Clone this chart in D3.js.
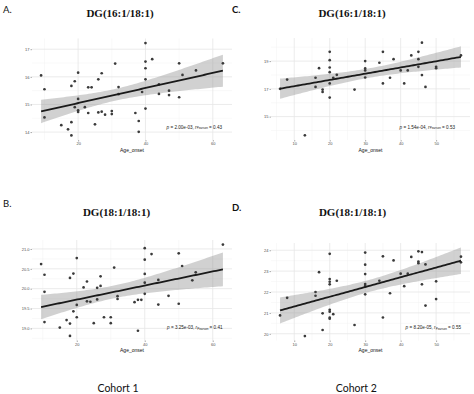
<!DOCTYPE html>
<html>
<head>
<meta charset="utf-8">
<script src="https://cdn.jsdelivr.net/npm/d3@7"></script>
<style>
  body { margin: 0; background: #fff; }
  svg { display: block; }
</style>
</head>
<body>
<script>
// cohort 1 (panels A, B)
var ageA = [9,10,10,15,17,18,18,18,19,19,20,20,20,20,22,23,24,23,25,26,26,27,27,28,30,30,31,32,32,37,38,38,39,40,40,40,40,40,42,44,44,47,47,50,50,51,55,63]
var dgA = [16.05,15.55,14.53,14.25,14.1,15.67,14.36,13.88,15.84,14.9,16.15,15.2,14.79,14.73,14.9,15.62,15.62,14.69,14.28,15.91,14.71,16.13,14.74,14.63,14.76,14.65,16.48,15.63,15.37,14.69,14.4,14.01,15.45,17.22,16.55,16.31,15.91,14.85,16.64,15.38,15.73,15.5,15.34,16.49,15.26,16.07,16.23,16.49]

var ageB = [9.5,10.5,10.5,10.5,15,17,18,18,18,19,19,20,20,20,22,23,23,24,25,26,26,27,27,28,30,30,31,32,32,37,38,38,39,40,40,40,40,40,42,44,44,47,50,50,51,54,55,63]
var dgB = [20.62,20.35,19.92,19.16,19.02,19.21,20.27,19.12,18.81,20.38,19.43,20.77,19.59,19.28,20.03,20.18,19.68,19.67,19.13,20.02,19.73,20.31,20.07,19.28,19.28,19.13,20.53,19.81,19.74,19.66,19.72,18.94,19.72,21.02,20.73,20.37,20.15,19.87,20.87,20.22,19.6,19.82,20.89,19.62,20.57,20.21,20.41,21.11]

// cohort 2 (panels C, D)
var ageC = [6,8,13,16,16,17,18,18,20,20,20,20,20,20,21,22,27,30,30,30,30,34,35,35,37,38,40,41,42,43,45,45,45,46,46,47,50,50,57]
var dgC = [17.0,17.67,13.65,17.8,17.14,18.49,16.95,16.78,19.67,19.07,18.54,18.2,17.39,16.37,17.8,18.01,16.95,19.0,18.47,18.33,17.82,18.88,19.67,17.39,17.8,19.14,18.33,17.39,18.33,19.41,19.67,19.14,18.59,20.33,17.99,17.14,18.59,18.49,19.41]

var ageD = [6,8,13,16,16,17,18,18,20,20,20,20,20,20,20,20,21,22,27,30,30,30,30,30,30,34,35,35,37,38,40,41,42,43,45,45,45,46,46,47,47,50,50,57,57]
var dgD = [20.88,21.72,19.89,22.0,21.82,22.95,20.98,20.18,23.83,22.62,22.49,22.37,21.15,21.06,20.77,20.72,20.94,22.54,20.42,23.89,23.31,22.86,22.38,22.29,21.89,22.54,23.71,20.78,21.94,23.51,22.88,22.28,22.88,23.68,23.95,23.46,23.38,23.91,22.37,23.32,21.35,22.51,21.66,23.69,23.42]

// tick labels
var xTicks1 = [20, 40, 60]
var xTicks2 = [10, 20, 30, 40, 50]
var yTicksA = [14, 15, 16, 17]
var yTicksB = [19.0, 19.5, 20.0, 20.5, 21.0]
var yTicksC = [15, 17, 19]
var yTicksD = [20, 21, 22, 23, 24]

var titles = ["DG(16:1/18:1)", "DG(18:1/18:1)", "DG(16:1/18:1)", "DG(18:1/18:1)"]
var letters = ["A.", "B.", "C.", "D."]
var pvals = ["2.00e-03", "3.25e-03", "1.54e-04", "8.20e-05"]
var rvals = ["0.43", "0.41", "0.53", "0.55"]
var cohorts = ["Cohort 1", "Cohort 2"]

var width = 474
var height = 394

var svg = d3.select("body")
  .append("svg")
    .attr("width", width)
    .attr("height", height)

svg.append("rect").attr("width", width).attr("height", height).attr("fill", "#fff")

// t quantile (0.975) approximation
function tq(df) {
  return 1.96 + 2.37 / df + 2.8 / (df * df)
}

function drawPanel(p) {
  var n = p.x.length
  var mx = d3.mean(p.x), my = d3.mean(p.y)
  var sxx = d3.sum(p.x, function(d) { return (d - mx) * (d - mx) })
  var sxy = d3.sum(p.x, function(d, i) { return (d - mx) * (p.y[i] - my) })
  var b = sxy / sxx
  var a = my - b * mx
  var s2 = d3.sum(p.x, function(d, i) { var r = p.y[i] - (a + b * d); return r * r }) / (n - 2)
  var t = tq(n - 2)

  var xe = d3.extent(p.x)
  var band = d3.range(0, 81).map(function(k) {
    var xv = xe[0] + (xe[1] - xe[0]) * k / 80
    var fit = a + b * xv
    var se = Math.sqrt(s2 * (1 / n + (xv - mx) * (xv - mx) / sxx))
    return { x: xv, fit: fit, lo: fit - t * se, hi: fit + t * se }
  })

  var ylo = Math.min(d3.min(p.y), d3.min(band, function(d) { return d.lo }))
  var yhi = Math.max(d3.max(p.y), d3.max(band, function(d) { return d.hi }))
  var xpad = (xe[1] - xe[0]) * 0.05
  var ypad = (yhi - ylo) * 0.05

  var x = d3.scaleLinear().domain([xe[0] - xpad, xe[1] + xpad]).range([p.x0, p.x1])
  var y = d3.scaleLinear().domain([ylo - ypad, yhi + ypad]).range([p.y1, p.y0])

  var g = svg.append("g")

  // minor grid (half way between major ticks)
  function minors(ticks, dom) {
    var step = ticks[1] - ticks[0]
    var out = ticks.map(function(v) { return v - step / 2 })
    out.push(ticks[ticks.length - 1] + step / 2)
    return out.filter(function(v) { return v >= dom[0] && v <= dom[1] })
  }
  g.selectAll(".mx").data(minors(p.xt, x.domain())).enter().append("line")
    .attr("x1", x).attr("x2", x).attr("y1", p.y0).attr("y2", p.y1)
    .attr("stroke", "#f2f2f2").attr("stroke-width", 0.5)
  g.selectAll(".my").data(minors(p.yt, y.domain())).enter().append("line")
    .attr("y1", y).attr("y2", y).attr("x1", p.x0).attr("x2", p.x1)
    .attr("stroke", "#f2f2f2").attr("stroke-width", 0.5)

  // major grid
  g.selectAll(".gx").data(p.xt).enter().append("line")
    .attr("x1", x).attr("x2", x).attr("y1", p.y0).attr("y2", p.y1)
    .attr("stroke", "#e6e6e6").attr("stroke-width", 0.8)
  g.selectAll(".gy").data(p.yt).enter().append("line")
    .attr("y1", y).attr("y2", y).attr("x1", p.x0).attr("x2", p.x1)
    .attr("stroke", "#e6e6e6").attr("stroke-width", 0.8)

  // axes
  var xAxis = d3.axisBottom(x).tickValues(p.xt).tickSize(1.5).tickPadding(1)
  var yAxis = d3.axisLeft(y).tickValues(p.yt).tickSize(1.5).tickPadding(1).tickFormat(p.fmt)

  var gx = g.append("g").attr("transform", "translate(0," + p.y1 + ")").call(xAxis)
  var gy = g.append("g").attr("transform", "translate(" + p.x0 + ",0)").call(yAxis)
  ;[gx, gy].forEach(function(ax) {
    ax.select(".domain").remove()
    ax.selectAll("line").attr("stroke", "#555").attr("stroke-width", 0.5)
    ax.selectAll("text")
      .attr("font-family", "Liberation Sans, sans-serif")
      .attr("font-size", "4px")
      .attr("fill", "#4d4d4d")
  })

  // ribbon + fit
  g.append("path")
    .datum(band)
    .attr("d", d3.area().x(function(d) { return x(d.x) }).y0(function(d) { return y(d.lo) }).y1(function(d) { return y(d.hi) }))
    .attr("fill", "#999")
    .attr("fill-opacity", 0.45)

  g.selectAll(".pt").data(p.x).enter().append("circle")
    .attr("cx", function(d) { return x(d) })
    .attr("cy", function(d, i) { return y(p.y[i]) })
    .attr("r", 1.35)
    .attr("fill", "#3a3a3a")

  g.append("path")
    .datum(band)
    .attr("d", d3.line().x(function(d) { return x(d.x) }).y(function(d) { return y(d.fit) }))
    .attr("fill", "none")
    .attr("stroke", "#1a1a1a")
    .attr("stroke-width", 1.8)

  // axis title
  g.append("text")
    .attr("x", (p.x0 + p.x1) / 2)
    .attr("y", p.y1 + 11.5)
    .attr("text-anchor", "middle")
    .attr("font-family", "Liberation Sans, sans-serif")
    .attr("font-size", "5px")
    .attr("fill", "#111")
    .text("Age_onset")

  // stats label
  var st = g.append("text")
    .attr("x", p.x1 - p.poff)
    .attr("y", p.y1 - 11.5)
    .attr("text-anchor", "end")
    .attr("font-family", "Liberation Sans, sans-serif")
    .attr("font-size", "4.6px")
    .attr("fill", "#222")
  st.append("tspan").attr("font-style", "italic").text("p")
  st.append("tspan").text(" = " + p.pv + ", ")
  st.append("tspan").attr("font-style", "italic").text("r")
  st.append("tspan").attr("font-size", "3px").attr("dy", 0.8).text("Pearson")
  st.append("tspan").attr("dy", -0.8).text(" = " + p.rv)

  // title
  svg.append("text")
    .attr("x", p.tx)
    .attr("y", p.ty)
    .attr("text-anchor", "middle")
    .attr("font-family", "Liberation Serif, serif")
    .attr("font-weight", "bold")
    .attr("font-size", "11px")
    .attr("fill", "#111")
    .text(p.title)

  svg.append("text")
    .attr("x", p.lx)
    .attr("y", p.ly)
    .attr("font-family", "Lato, sans-serif")
    .attr("font-weight", p.lbold ? "bold" : "normal")
    .attr("font-size", "9.5px")
    .attr("fill", "#111")
    .text(p.letter)
}

var fmt0 = d3.format("d")
var fmt1 = d3.format(".1f")

drawPanel({ x: ageA, y: dgA, xt: xTicks1, yt: yTicksA, fmt: fmt0, x0: 32, x1: 232, y0: 38.5, y1: 140,
  title: titles[0], tx: 120, ty: 16.5, letter: letters[0], lx: 3, ly: 12.7, lbold: false, pv: pvals[0], rv: rvals[0], poff: 10 })
drawPanel({ x: ageB, y: dgB, xt: xTicks1, yt: yTicksB, fmt: fmt1, x0: 32, x1: 232, y0: 240, y1: 340.5,
  title: titles[1], tx: 116.5, ty: 215.5, letter: letters[1], lx: 3, ly: 207, lbold: false, pv: pvals[1], rv: rvals[1], poff: 9.5 })
drawPanel({ x: ageC, y: dgC, xt: xTicks2, yt: yTicksC, fmt: fmt0, x0: 271, x1: 470, y0: 38, y1: 140,
  title: titles[2], tx: 352, ty: 16.5, letter: letters[2], lx: 232, ly: 13.3, lbold: true, pv: pvals[2], rv: rvals[2], poff: 15 })
drawPanel({ x: ageD, y: dgD, xt: xTicks2, yt: yTicksD, fmt: fmt0, x0: 271, x1: 470, y0: 243, y1: 340.5,
  title: titles[3], tx: 352.5, ty: 215.5, letter: letters[3], lx: 232, ly: 211, lbold: true, pv: pvals[3], rv: rvals[3], poff: 9 })

// cohort captions
svg.selectAll(".cohort")
  .data(cohorts)
  .enter()
  .append("text")
    .attr("x", function(d, i) { return i == 0 ? 118 : 356.3 })
    .attr("y", 391.5)
    .attr("text-anchor", "middle")
    .attr("font-family", "Lato, sans-serif")
    .attr("font-size", "10.5px")
    .attr("fill", "#111")
    .text(function(d) { return d })
</script>
</body>
</html>
